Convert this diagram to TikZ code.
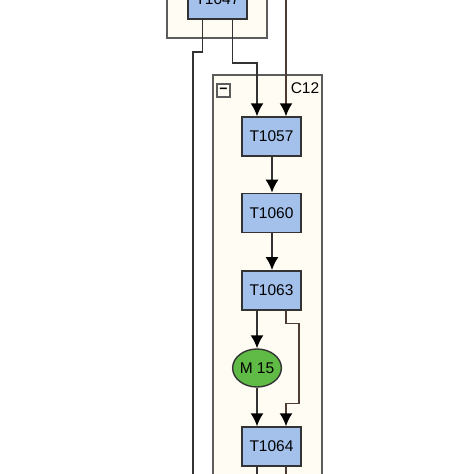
\documentclass[tikz,border=0pt]{standalone}
\usepackage{fontspec}
\setsansfont{Liberation Sans}
\usepackage{tikz}
\usetikzlibrary{arrows.meta,positioning,shapes.geometric}
\definecolor{taskblue}{HTML}{A3C1EB}
\definecolor{milegreen}{HTML}{5FBA46}
\definecolor{groupcream}{HTML}{FFFDF3}
\definecolor{linkbrown}{HTML}{4E3C33}
\definecolor{edgegray}{HTML}{333333}
\tikzset{
  lbl/.style={font=\sffamily\fontsize{15.5}{17}\selectfont},
  task/.style={lbl, draw=edgegray, fill=taskblue, line width=1.4pt, minimum width=59pt, minimum height=39pt, inner sep=0pt},
  milestone/.style={lbl, draw=edgegray, fill=milegreen, ellipse, line width=1.4pt, minimum width=47pt, minimum height=38pt, inner sep=0pt},
  group/.style={draw=edgegray!80, fill=groupcream, line width=1.4pt},
  fold/.style={draw=edgegray!80, line width=1.3pt, minimum size=13pt, inner sep=0pt, font=\sffamily\bfseries\fontsize{14}{14}\selectfont},
  link/.style={draw=edgegray, line width=1.8pt},
  blink/.style={draw=linkbrown, line width=1.8pt},
  arr/.style={-{Latex[length=13pt,width=13pt,color=black]}}
}
\begin{document}
\begin{tikzpicture}[x=1pt, y=-1pt, node distance=36pt]
\useasboundingbox (0,0) rectangle (474,474);
\clip (0,0) rectangle (474,474);
\fill[white] (0,0) rectangle (474,474);
% containers
\draw[group] (167,-60) rectangle (267,38);
\draw[group] (213,75) rectangle (322,500);
\node[fold] (collapse) at (223.5,90.5) {−};
\node[lbl] (c12) at (305,88) {C12};
% tasks
\node[task] (t1047) at (217.5,-0.5) {T1047};
\node[task] (t1057) at (271.5,136.5) {T1057};
\node[task, below=of t1057] (t1060) {T1060};
\node[task, below=37pt of t1060] (t1063) {T1063};
\node[milestone] (m15) at (257,368) {M 15};
\node[task] (t1064) at (271.5,446.5) {T1064};
\coordinate (inB) at (286,-10);
\coordinate (outA) at (193,490);
\coordinate (outC) at (257,490);
\coordinate (outD) at (286,490);
% links
\draw[link] ([xshift=-15pt]t1047.south) -- ++(0,32) -| (outA);
\draw[link, arr] ([xshift=15pt]t1047.south) -- ++(0,43) -| ([xshift=-14.5pt]t1057.north);
\draw[blink, arr] (inB) -- ([xshift=14.5pt]t1057.north);
\draw[link, arr] ([xshift=0.5pt]t1057.south) -- ([xshift=0.5pt]t1060.north);
\draw[link, arr] ([xshift=0.5pt]t1060.south) -- ([xshift=0.5pt]t1063.north);
\draw[link, arr] (m15.north |- t1063.south) -- (m15.north);
\draw[link, arr] (m15.south) -- (m15.south |- t1064.north);
\draw[blink, arr] ([xshift=14.5pt]t1063.south) -- ++(0,13) -- ++(13,0) -- ++(0,80) -| ([xshift=14.5pt]t1064.north);
\draw[link] (m15.south |- t1064.south) -- (outC);
\draw[blink] ([xshift=14.5pt]t1064.south) -- (outD);
\end{tikzpicture}
\end{document}
